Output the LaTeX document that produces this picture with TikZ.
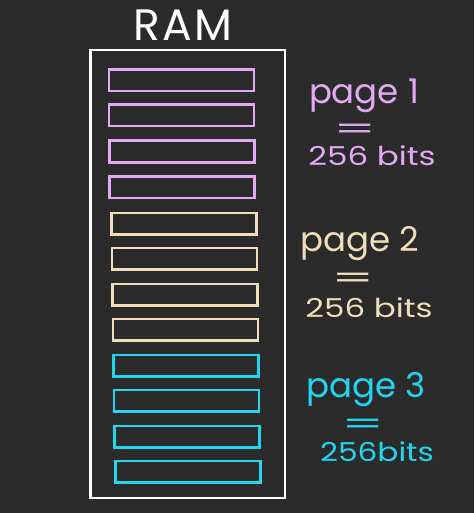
\documentclass[tikz,border=0pt]{standalone}
\usepackage{fontspec}
\setmainfont{Poppins}
\definecolor{bg}{HTML}{2B2B2B}
\definecolor{pinkc}{HTML}{E2AAF2}
\definecolor{tanc}{HTML}{F0DDBA}
\definecolor{cyanc}{HTML}{22D6F0}
\begin{document}
\begin{tikzpicture}[x=1pt,y=-1pt,
  bar/.style={draw, line width=2.5pt, rectangle, inner sep=0pt, minimum width=145pt, minimum height=21.5pt},
  lbl/.style={inner sep=0pt, anchor=center, font=\fontsize{34}{34}\selectfont},
  eqs/.style={inner sep=0pt, anchor=center, font=\fontsize{30}{30}\selectfont},
  bits/.style={inner sep=0pt, anchor=center, font=\fontsize{26}{26}\selectfont}]
\fill[bg] (0,0) rectangle (474,513);
\useasboundingbox (0,0) rectangle (474,513);
\node[draw=white, line width=2.5pt, rectangle, inner sep=0pt, minimum width=194.5pt, minimum height=447.5pt] (ram) at (187.5,274) {};
\node[inner sep=0pt, text=white, font=\fontsize{44}{44}\selectfont] (title) at (183,25) {R\kern2ptA\kern2ptM};
% page 1
\node[bar, draw=pinkc] (b1) at (181.5,80.5) {};
\node[bar, draw=pinkc] (b2) at (181.5,115.5) {};
\node[bar, draw=pinkc] (b3) at (182,151.5) {};
\node[bar, draw=pinkc] (b4) at (182,187) {};
% page 2
\node[bar, draw=tanc] (b5) at (184,223.5) {};
\node[bar, draw=tanc] (b6) at (184.5,258.5) {};
\node[bar, draw=tanc] (b7) at (185,294.5) {};
\node[bar, draw=tanc] (b8) at (185.5,329.5) {};
% page 3
\node[bar, draw=cyanc] (b9) at (186,365.5) {};
\node[bar, draw=cyanc] (b10) at (186.5,400.5) {};
\node[bar, draw=cyanc] (b11) at (187,436.5) {};
\node[bar, draw=cyanc] (b12) at (188,471.5) {};
% labels
\node[lbl, text=pinkc] (p1) at (364,96) {page 1};
\node[eqs, text=pinkc] (e1) at (355,132) {\scalebox{2}[1]{=}};
\node[bits, text=pinkc] (s1) at (372,156) {\scalebox{1.25}[1]{256 bits}};
\node[lbl, text=tanc] (p2) at (360,244) {page 2};
\node[eqs, text=tanc] (e2) at (353,281) {\scalebox{2}[1]{=}};
\node[bits, text=tanc] (s2) at (369,308) {\scalebox{1.25}[1]{256 bits}};
\node[lbl, text=cyanc] (p3) at (366,390) {page 3};
\node[eqs, text=cyanc] (e3) at (363,427) {\scalebox{2}[1]{=}};
\node[bits, text=cyanc] (s3) at (377,452) {\scalebox{1.2}[1]{256bits}};
\end{tikzpicture}
\end{document}
